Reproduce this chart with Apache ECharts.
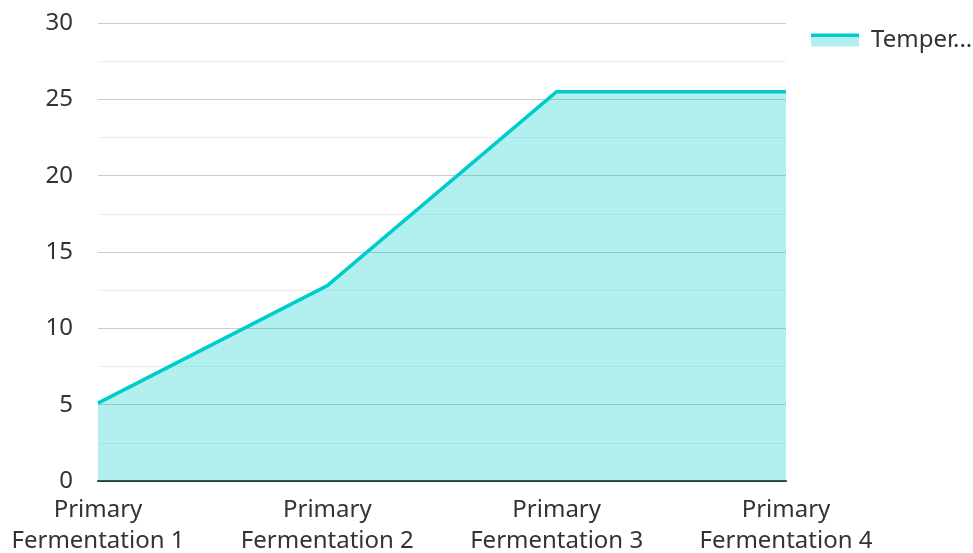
<!DOCTYPE html>
<html>
<head>
<meta charset="utf-8">
<script src="https://cdn.jsdelivr.net/npm/echarts@6/dist/echarts.min.js"></script>
<style>
  html, body { margin: 0; padding: 0; background: #fff; }
  #chart { width: 973px; height: 553px; }
</style>
</head>
<body>
<div id="chart"></div>
<script>
var categories = ['Primary\nFermentation 1', 'Primary\nFermentation 2', 'Primary\nFermentation 3', 'Primary\nFermentation 4'];
var temperature = [5.1, 12.8, 25.5, 25.5];
var seriesName = 'Temperature';

var myChart = echarts.init(document.getElementById('chart'));
var option = {
    textStyle: { fontFamily: 'Noto Sans' },
    grid: { left: 98, right: 187, top: 23, bottom: 72, outerBoundsMode: 'none', containLabel: false },
    legend: {
        left: 811,
        top: 28,
        padding: 0,
        itemWidth: 48,
        itemHeight: 13,
        icon: 'rect',
        textStyle: {
            fontSize: 24,
            color: '#333',
            width: 112,
            overflow: 'truncate',
            ellipsis: '...',
            verticalAlign: 'bottom',
            lineHeight: 9,
            padding: [0, 0, 0, 7]
        },
        itemStyle: {
            color: new echarts.graphic.LinearGradient(0, 0, 0, 1, [
                { offset: 0, color: '#00cccc' },
                { offset: 0.25, color: '#00cccc' },
                { offset: 0.25, color: '#b2f0f0' },
                { offset: 1, color: '#b2f0f0' }
            ])
        },
        data: [seriesName]
    },
    xAxis: {
        type: 'category',
        boundaryGap: false,
        data: categories,
        axisLine: { lineStyle: { color: '#333', width: 2 } },
        axisTick: { show: false },
        axisLabel: { fontSize: 24, color: '#333', margin: 14, lineHeight: 31 }
    },
    yAxis: {
        type: 'value',
        min: 0,
        max: 30,
        interval: 5,
        axisLabel: { fontSize: 24, color: '#333', margin: 25 },
        splitLine: { lineStyle: { color: '#cccccc', width: 1 } },
        minorTick: { show: false, splitNumber: 2 },
        minorSplitLine: { show: true, lineStyle: { color: '#ececec', width: 1 } }
    },
    series: [{
        name: seriesName,
        type: 'line',
        data: temperature,
        symbol: 'none',
        lineStyle: { color: '#00cccc', width: 3.5 },
        itemStyle: { color: '#00cccc' },
        areaStyle: { color: '#00cccc', opacity: 0.3 }
    }]
};
myChart.setOption(option);
window.addEventListener('resize', function () {
    myChart.resize();
});
</script>
</body>
</html>
